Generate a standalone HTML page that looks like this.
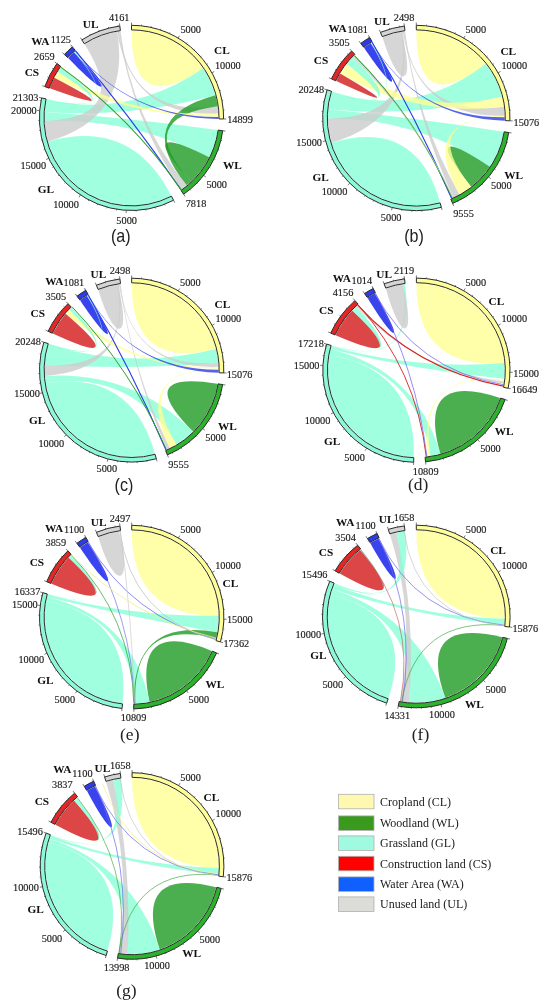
<!DOCTYPE html>
<html><head><meta charset="utf-8"><title>Land use transfer chord diagrams</title>
<style>
html,body{margin:0;padding:0;background:#fff;}
body{width:550px;height:1007px;overflow:hidden;}
svg{display:block;}
.lk{fill-opacity:0.8;}
.tl{text-anchor:middle;font-family:"Liberation Serif",serif;font-size:10.3px;fill:#1a1a1a;stroke:#1a1a1a;stroke-width:0.15px;}
.sb{text-anchor:middle;font-family:"Liberation Serif",serif;font-size:11.3px;font-weight:bold;fill:#111;}
.cs{text-anchor:middle;font-family:"Liberation Sans",sans-serif;font-size:17.5px;fill:#222;}
.cr{text-anchor:middle;font-family:"Liberation Serif",serif;font-size:17.5px;fill:#222;}
.lg{font-family:"Liberation Serif",serif;font-size:12px;fill:#1a1a1a;}
</style></head><body>
<svg width="550" height="1007" viewBox="0 0 550 1007">
<path d="M131.5,30.5 A86.93,87.4 0 0 1 203.05,68.27 Q131.5,117.9 131.5,30.5 Z" fill="#FFFF95" class="lk"/>
<path d="M203.05,68.27 A86.93,87.4 0 0 1 215.47,95.28 Q131.5,117.9 44.77,111.96 A86.93,87.4 0 0 1 46.41,100.03 Q131.5,117.9 203.05,68.27 Z" fill="#88FFD6" class="lk"/>
<path d="M217.59,130 A86.93,87.4 0 0 1 209.16,157.17 Q131.5,117.9 44.62,120.95 A86.93,87.4 0 0 1 44.77,111.96 Q131.5,117.9 217.59,130 Z" fill="#88FFD6" class="lk"/>
<path d="M171.19,195.66 A86.93,87.4 0 0 1 47.82,141.55 Q131.5,117.9 171.19,195.66 Z" fill="#88FFD6" class="lk"/>
<path d="M47.82,141.55 A86.93,87.4 0 0 1 44.62,120.95 Q131.5,117.9 84.64,44.29 A86.93,87.4 0 0 1 117.15,31.7 Q131.5,117.9 47.82,141.55 Z" fill="#CCCCCC" class="lk"/>
<path d="M217.64,106.19 A86.93,87.4 0 0 1 218.32,113.48 Q131.5,117.9 117.15,31.7 A86.93,87.4 0 0 1 118.8,31.44 Q131.5,117.9 217.64,106.19 Z" fill="#CCCCCC" class="lk"/>
<path d="M186.79,185.34 A86.93,87.4 0 0 1 181.36,189.49 Q131.5,117.9 118.8,31.44 A86.93,87.4 0 0 1 120.45,31.21 Q131.5,117.9 186.79,185.34 Z" fill="#CCCCCC" class="lk"/>
<path d="M209.16,157.17 A86.93,87.4 0 0 1 191.34,181.3 Q131.5,117.9 209.16,157.17 Z" fill="#1E9B23" class="lk"/>
<path d="M215.47,95.28 A86.93,87.4 0 0 1 217.64,106.19 Q131.5,117.9 191.34,181.3 A86.93,87.4 0 0 1 186.79,185.34 Q131.5,117.9 215.47,95.28 Z" fill="#1E9B23" class="lk"/>
<path d="M218.32,113.48 A86.93,87.4 0 0 1 218.42,116.68 Q131.5,117.9 54.25,77.81 A86.93,87.4 0 0 1 57.7,71.71 Q131.5,117.9 218.32,113.48 Z" fill="#FFFF95" class="lk"/>
<path d="M49.69,88.36 A86.93,87.4 0 0 1 54.25,77.81 Q131.5,117.9 49.69,88.36 Z" fill="#D31818" class="lk"/>
<path d="M46.41,100.03 A86.93,87.4 0 0 1 46.62,99.05 Q131.5,117.9 57.7,71.71 A86.93,87.4 0 0 1 60.29,67.77 Q131.5,117.9 46.41,100.03 Z" fill="#88FFD6" class="lk"/>
<path d="M68.17,58.03 A86.93,87.4 0 0 1 74.01,52.34 C114.38,94.05 108.34,99.94 68.17,58.03 Z" fill="#0915EA" class="lk"/>
<path d="M46.32,100.48 A86.93,87.4 0 0 1 46.41,100.03 Q131.5,117.9 74.01,52.34 A86.93,87.4 0 0 1 74.81,51.64 Q131.5,117.9 46.32,100.48 Z" fill="#88FFD6" class="lk"/>
<path d="M218.42,116.98 A86.93,87.4 0 0 1 218.42,118.9 Q131.5,117.9 75.04,51.44 A86.93,87.4 0 0 1 75.51,51.05 Q131.5,117.9 218.42,116.98 Z" fill="#2B3BEB" class="lk"/>
<path d="M180.99,189.76 Q131.5,117.9 75.62,50.95" fill="none" stroke="#2B3BEB" stroke-width="1.15"/>
<path d="M181.11,189.67 Q131.5,117.9 60.73,67.15" fill="none" stroke="#2E9E2E" stroke-width="1.1"/>
<path d="M131.5,25.3 A92.1,92.6 0 0 1 223.59,118.96 L219.02,118.91 A87.52,88 0 0 0 131.5,29.9 Z" fill="#FFFF99" stroke="#2b2b2b" stroke-width="1"/>
<path d="M131.5,25.3L131.5,22.6M141.26,25.82L141.39,24.63M150.92,27.38L151.17,26.21M160.35,29.96L160.72,28.82M169.46,33.53L169.95,32.44M178.14,38.05L179.5,35.72M186.3,43.47L187.01,42.51M193.83,49.73L194.64,48.85M200.67,56.76L201.57,55.97M206.73,64.47L207.7,63.78M211.93,72.79L214.28,71.48M216.24,81.62L217.33,81.15M219.58,90.85L220.73,90.5M221.94,100.39L223.11,100.17M223.28,110.13L224.46,110.03M223.59,118.96L226.28,119" stroke="#3c3c3c" stroke-width="0.7" fill="none"/>
<path d="M222.71,130.72 A92.1,92.6 0 0 1 183.63,194.24 L181.04,190.45 A87.52,88 0 0 0 218.18,130.08 Z" fill="#2DB22D" stroke="#2b2b2b" stroke-width="1"/>
<path d="M222.71,130.72L225.37,131.09M220.85,140.37L222.01,140.66M217.98,149.77L219.1,150.18M214.13,158.8L215.2,159.33M209.35,167.38L210.36,168.02M203.7,175.4L205.8,177.07M197.23,182.77L198.08,183.61M190.02,189.41L190.78,190.33M183.63,194.24L185.15,196.47" stroke="#3c3c3c" stroke-width="0.7" fill="none"/>
<path d="M173.56,200.28 A92.1,92.6 0 0 1 41.57,97.93 L46.04,98.92 A87.52,88 0 0 0 171.47,196.19 Z" fill="#8CF8D8" stroke="#2b2b2b" stroke-width="1"/>
<path d="M173.56,200.28L174.78,202.68M164.63,204.3L165.06,205.42M155.34,207.34L155.65,208.5M145.77,209.38L145.96,210.57M136.05,210.39L136.11,211.59M126.27,210.35L126.12,213.05M116.55,209.27L116.36,210.46M107.01,207.16L106.69,208.32M97.73,204.05L97.29,205.17M88.84,199.97L88.29,201.03M80.43,194.96L78.94,197.21M72.59,189.08L71.83,190M65.42,182.4L64.56,183.24M58.99,175L58.05,175.74M53.38,166.95L52.37,167.58M48.65,158.34L46.23,159.52M44.85,149.29L43.73,149.69M42.03,139.87L40.87,140.16M40.22,130.22L39.04,130.37M39.43,120.42L38.24,120.45M39.69,110.59L37.01,110.38M40.98,100.85L39.8,100.63M41.57,97.93L38.95,97.35" stroke="#3c3c3c" stroke-width="0.7" fill="none"/>
<path d="M44.82,86.6 A92.1,92.6 0 0 1 56.93,63.56 L60.63,66.26 A87.52,88 0 0 0 49.13,88.16 Z" fill="#E32626" stroke="#2b2b2b" stroke-width="1"/>
<path d="M44.82,86.6L42.29,85.69M48.61,77.54L47.53,77.02M53.33,68.93L52.32,68.3M56.93,63.56L54.75,61.97" stroke="#3c3c3c" stroke-width="0.7" fill="none"/>
<path d="M64.4,54.47 A92.1,92.6 0 0 1 72.4,46.88 L75.33,50.41 A87.52,88 0 0 0 67.73,57.62 Z" fill="#2D3CEB" stroke="#2b2b2b" stroke-width="1"/>
<path d="M64.4,54.47L62.44,52.62M71.47,47.68L70.69,46.77M72.4,46.88L70.68,44.81" stroke="#3c3c3c" stroke-width="0.7" fill="none"/>
<path d="M81.85,39.91 A92.1,92.6 0 0 1 119.8,26.05 L120.38,30.61 A87.52,88 0 0 0 84.32,43.78 Z" fill="#D4D4D4" stroke="#2b2b2b" stroke-width="1"/>
<path d="M81.85,39.91L80.41,37.63M90.36,35.05L89.82,33.98M99.32,31.14L98.91,30.01M108.65,28.19L108.35,27.03M118.24,26.27L118.07,25.08M119.8,26.05L119.46,23.37" stroke="#3c3c3c" stroke-width="0.7" fill="none"/>
<text x="90.7" y="27.9" class="sb">UL</text>
<text x="119.2" y="20.8" class="tl">4161</text>
<text x="190.7" y="33.4" class="tl">5000</text>
<text x="221.85" y="53.9" class="sb">CL</text>
<text x="227.85" y="68.9" class="tl">10000</text>
<text x="240" y="123.2" class="tl">14899</text>
<text x="232.35" y="168.7" class="sb">WL</text>
<text x="216.7" y="187.6" class="tl">5000</text>
<text x="196" y="206.8" class="tl">7818</text>
<text x="126.65" y="223.8" class="tl">5000</text>
<text x="66.05" y="207.5" class="tl">10000</text>
<text x="46" y="193.3" class="sb">GL</text>
<text x="33.25" y="169.3" class="tl">15000</text>
<text x="23.9" y="113.9" class="tl">20000</text>
<text x="25.6" y="100.8" class="tl">21303</text>
<text x="31.9" y="76.3" class="sb">CS</text>
<text x="44.4" y="59.5" class="tl">2659</text>
<text x="40.3" y="45.3" class="sb">WA</text>
<text x="60.9" y="42.8" class="tl">1125</text>
<text x="0" y="0" class="cs" transform="translate(120.75,242) scale(0.92,1)">(a)</text>
<path d="M416.3,30.5 A88.4,87.5 0 0 1 485.67,63.77 Q416.3,118 416.3,30.5 Z" fill="#FFFF95" class="lk"/>
<path d="M485.67,63.77 A88.4,87.5 0 0 1 502.07,96.83 Q416.3,118 328.34,109.31 A88.4,87.5 0 0 1 331.77,92.42 Q416.3,118 485.67,63.77 Z" fill="#88FFD6" class="lk"/>
<path d="M503.6,131.74 A88.4,87.5 0 0 1 489.76,166.68 Q416.3,118 327.91,118.61 A88.4,87.5 0 0 1 328.34,109.31 Q416.3,118 503.6,131.74 Z" fill="#88FFD6" class="lk"/>
<path d="M439.96,202.31 A88.4,87.5 0 0 1 331.5,142.7 Q416.3,118 439.96,202.31 Z" fill="#88FFD6" class="lk"/>
<path d="M382.45,37.17 A88.4,87.5 0 0 1 400.95,31.83 C416.73,87.67 399.47,92.66 382.45,37.17 Z" fill="#CCCCCC" class="lk"/>
<path d="M331.5,142.7 A88.4,87.5 0 0 1 327.91,118.61 Q416.3,118 400.95,31.83 A88.4,87.5 0 0 1 402.78,31.53 Q416.3,118 331.5,142.7 Z" fill="#CCCCCC" class="lk"/>
<path d="M503.96,106.73 A88.4,87.5 0 0 1 504.67,115.71 Q416.3,118 402.78,31.53 A88.4,87.5 0 0 1 404,31.35 Q416.3,118 503.96,106.73 Z" fill="#CCCCCC" class="lk"/>
<path d="M459.43,194.38 A88.4,87.5 0 0 1 453.24,197.49 Q416.3,118 404,31.35 A88.4,87.5 0 0 1 405.05,31.21 Q416.3,118 459.43,194.38 Z" fill="#CCCCCC" class="lk"/>
<path d="M489.76,166.68 A88.4,87.5 0 0 1 471.09,186.67 Q416.3,118 489.76,166.68 Z" fill="#1E9B23" class="lk"/>
<path d="M502.07,96.83 A88.4,87.5 0 0 1 503.96,106.73 Q416.3,118 340.13,73.59 A88.4,87.5 0 0 1 346.83,63.89 Q416.3,118 502.07,96.83 Z" fill="#FFFF95" class="lk"/>
<path d="M504.67,115.71 A88.4,87.5 0 0 1 504.69,116.93 Q416.3,118 471.09,186.67 A88.4,87.5 0 0 1 459.43,194.38 Q416.3,118 504.67,115.71 Z" fill="#FFFF95" class="lk"/>
<path d="M336.17,81.04 A88.4,87.5 0 0 1 340.13,73.59 Q416.3,118 336.17,81.04 Z" fill="#D31818" class="lk"/>
<path d="M331.77,92.42 A88.4,87.5 0 0 1 332.08,91.42 Q416.3,118 346.83,63.89 A88.4,87.5 0 0 1 352.39,57.55 Q416.3,118 331.77,92.42 Z" fill="#88FFD6" class="lk"/>
<path d="M363.86,47.56 A88.4,87.5 0 0 1 370.64,43.08 C403.45,91.46 396.44,96.09 363.86,47.56 Z" fill="#0915EA" class="lk"/>
<path d="M331.63,92.86 A88.4,87.5 0 0 1 331.77,92.42 Q416.3,118 370.64,43.08 A88.4,87.5 0 0 1 371.57,42.53 Q416.3,118 331.63,92.86 Z" fill="#88FFD6" class="lk"/>
<path d="M504.69,117.24 A88.4,87.5 0 0 1 504.66,120.65 Q416.3,118 371.7,42.45 A88.4,87.5 0 0 1 372.24,42.15 Q416.3,118 504.69,117.24 Z" fill="#2B3BEB" class="lk"/>
<path d="M451.55,198.24 Q416.3,118 372.1,42.22" fill="none" stroke="#2B3BEB" stroke-width="1.15"/>
<path d="M452.25,197.94 Q416.3,118 354.34,55.59" fill="none" stroke="#2E9E2E" stroke-width="1.1"/>
<path d="M453.24,197.49 A88.4,87.5 0 0 1 452.4,197.87 Q416.3,118 352.5,57.44 A88.4,87.5 0 0 1 353.58,56.34 Q416.3,118 453.24,197.49 Z" fill="#CCCCCC" class="lk"/>
<path d="M416.3,25.3 A93.65,92.7 0 0 1 509.91,120.81 L505.26,120.67 A89,88.1 0 0 0 416.3,29.9 Z" fill="#FFFF99" stroke="#2b2b2b" stroke-width="1"/>
<path d="M416.3,25.3L416.3,22.6M426.23,25.82L426.36,24.63M436.04,27.38L436.3,26.21M445.63,29.97L446.01,28.83M454.9,33.54L455.4,32.45M463.72,38.06L465.11,35.74M472.02,43.49L472.74,42.53M479.68,49.76L480.5,48.87M486.63,56.79L487.54,56M492.79,64.52L493.78,63.82M498.09,72.84L500.47,71.53M502.46,81.68L503.58,81.21M505.87,90.93L507.03,90.58M508.26,100.48L509.45,100.25M509.62,110.22L510.83,110.12M509.91,120.81L512.63,120.89" stroke="#3c3c3c" stroke-width="0.7" fill="none"/>
<path d="M508.79,132.56 A93.65,92.7 0 0 1 452.63,203.44 L450.82,199.2 A89,88.1 0 0 0 504.2,131.84 Z" fill="#2DB22D" stroke="#2b2b2b" stroke-width="1"/>
<path d="M508.79,132.56L511.48,132.98M506.71,142.18L507.88,142.49M503.61,151.53L504.74,151.96M499.53,160.5L500.6,161.05M494.51,169L495.52,169.66M488.6,176.91L490.71,178.63M481.89,184.17L482.74,185.03M474.43,190.68L475.19,191.62M466.32,196.37L466.97,197.38M457.65,201.18L458.18,202.25M452.63,203.44L453.68,205.93" stroke="#3c3c3c" stroke-width="0.7" fill="none"/>
<path d="M441.36,207.32 A93.65,92.7 0 0 1 327.07,89.84 L331.5,91.24 A89,88.1 0 0 0 440.12,202.89 Z" fill="#8CF8D8" stroke="#2b2b2b" stroke-width="1"/>
<path d="M441.36,207.32L442.09,209.92M431.66,209.44L431.86,210.63M421.78,210.54L421.85,211.74M411.84,210.59L411.78,211.79M401.95,209.6L401.76,210.79M392.22,207.58L391.52,210.19M382.76,204.55L382.33,205.67M373.68,200.54L373.13,201.61M365.08,195.61L364.42,196.61M357.06,189.8L356.29,190.73M349.7,183.18L347.77,185.07M343.1,175.82L342.15,176.57M337.32,167.81L336.3,168.46M332.43,159.25L331.35,159.78M328.49,150.21L327.35,150.63M325.53,140.82L322.89,141.48M323.6,131.17L322.4,131.34M322.71,121.37L321.5,121.41M322.88,111.53L321.67,111.44M324.1,101.76L322.9,101.55M327.07,89.84L324.48,89.02" stroke="#3c3c3c" stroke-width="0.7" fill="none"/>
<path d="M331.41,78.85 A93.65,92.7 0 0 1 351.61,50.97 L354.82,54.3 A89,88.1 0 0 0 335.62,80.79 Z" fill="#E32626" stroke="#2b2b2b" stroke-width="1"/>
<path d="M331.41,78.85L328.94,77.71M336.08,70.16L335.04,69.54M341.66,62.02L340.69,61.29M348.07,54.5L347.19,53.68M351.61,50.97L349.73,49.02" stroke="#3c3c3c" stroke-width="0.7" fill="none"/>
<path d="M360.74,43.38 A93.65,92.7 0 0 1 369.74,37.57 L372.05,41.56 A89,88.1 0 0 0 363.5,47.08 Z" fill="#2D3CEB" stroke="#2b2b2b" stroke-width="1"/>
<path d="M360.74,43.38L359.12,41.2M369.04,37.97L368.43,36.93M369.74,37.57L368.39,35.23" stroke="#3c3c3c" stroke-width="0.7" fill="none"/>
<path d="M380.44,32.36 A93.65,92.7 0 0 1 404.38,26.05 L404.97,30.62 A89,88.1 0 0 0 382.22,36.61 Z" fill="#D4D4D4" stroke="#2b2b2b" stroke-width="1"/>
<path d="M380.44,32.36L379.4,29.87M389.82,29.08L389.47,27.93M399.49,26.81L399.27,25.63M404.38,26.05L404.03,23.38" stroke="#3c3c3c" stroke-width="0.7" fill="none"/>
<text x="381.95" y="25.1" class="sb">UL</text>
<text x="404.05" y="21.1" class="tl">2498</text>
<text x="475.8" y="33.4" class="tl">5000</text>
<text x="508.3" y="55.2" class="sb">CL</text>
<text x="514.25" y="69.4" class="tl">10000</text>
<text x="526.4" y="125.6" class="tl">15076</text>
<text x="513.7" y="179.1" class="sb">WL</text>
<text x="501.3" y="189" class="tl">5000</text>
<text x="463.5" y="216.5" class="tl">9555</text>
<text x="391.15" y="220.7" class="tl">5000</text>
<text x="334.55" y="194.7" class="tl">10000</text>
<text x="320.55" y="181.2" class="sb">GL</text>
<text x="309.1" y="145.6" class="tl">15000</text>
<text x="311.3" y="92.9" class="tl">20248</text>
<text x="320.95" y="63.6" class="sb">CS</text>
<text x="339.3" y="46.4" class="tl">3505</text>
<text x="337.6" y="31.5" class="sb">WA</text>
<text x="357.7" y="32.7" class="tl">1081</text>
<text x="0" y="0" class="cs" transform="translate(414,241.7) scale(0.92,1)">(b)</text>
<path d="M131.65,283.4 A86.94,86.75 0 0 1 215.97,349.02 Q131.65,370.15 131.65,283.4 Z" fill="#FFFF95" class="lk"/>
<path d="M215.97,349.02 A86.94,86.75 0 0 1 218.27,362.74 Q131.65,370.15 44.86,365.01 A86.94,86.75 0 0 1 48.6,344.5 Q131.65,370.15 215.97,349.02 Z" fill="#88FFD6" class="lk"/>
<path d="M217.51,383.77 A86.94,86.75 0 0 1 193.02,431.6 Q131.65,370.15 217.51,383.77 Z" fill="#1E9B23" class="lk"/>
<path d="M193.02,431.6 A86.94,86.75 0 0 1 176.43,444.51 Q131.65,370.15 45.67,382.97 A86.94,86.75 0 0 1 44.9,375.9 Q131.65,370.15 193.02,431.6 Z" fill="#88FFD6" class="lk"/>
<path d="M154.92,453.74 A86.94,86.75 0 0 1 45.67,382.97 Q131.65,370.15 154.92,453.74 Z" fill="#88FFD6" class="lk"/>
<path d="M98.36,290.01 A86.94,86.75 0 0 1 117.45,284.56 C132.64,339.99 114.83,345.07 98.36,290.01 Z" fill="#CCCCCC" class="lk"/>
<path d="M44.9,375.9 A86.94,86.75 0 0 1 44.86,365.01 Q131.65,370.15 117.45,284.56 A86.94,86.75 0 0 1 118.95,284.33 Q131.65,370.15 44.9,375.9 Z" fill="#CCCCCC" class="lk"/>
<path d="M218.27,362.74 A86.94,86.75 0 0 1 218.52,366.82 Q131.65,370.15 118.95,284.33 A86.94,86.75 0 0 1 119.85,284.2 Q131.65,370.15 218.27,362.74 Z" fill="#CCCCCC" class="lk"/>
<path d="M169.76,448.12 A86.94,86.75 0 0 1 167.01,449.4 Q131.65,370.15 119.85,284.2 A86.94,86.75 0 0 1 120.58,284.11 Q131.65,370.15 169.76,448.12 Z" fill="#CCCCCC" class="lk"/>
<path d="M218.57,368.18 A86.94,86.75 0 0 1 218.59,369.39 Q131.65,370.15 176.43,444.51 A86.94,86.75 0 0 1 169.76,448.12 Q131.65,370.15 218.57,368.18 Z" fill="#FFFF95" class="lk"/>
<path d="M218.52,366.82 A86.94,86.75 0 0 1 218.57,368.18 Q131.65,370.15 65.54,313.81 A86.94,86.75 0 0 1 69.32,309.67 Q131.65,370.15 218.52,366.82 Z" fill="#FFFF95" class="lk"/>
<path d="M52.85,333.51 A86.94,86.75 0 0 1 65.54,313.81 Q131.65,370.15 52.85,333.51 Z" fill="#D31818" class="lk"/>
<path d="M48.6,344.5 A86.94,86.75 0 0 1 48.82,343.8 Q131.65,370.15 69.32,309.67 A86.94,86.75 0 0 1 71.59,307.43 Q131.65,370.15 48.6,344.5 Z" fill="#88FFD6" class="lk"/>
<path d="M80.07,300.32 A86.94,86.75 0 0 1 86.87,295.79 C119.11,343.78 112.08,348.46 80.07,300.32 Z" fill="#0915EA" class="lk"/>
<path d="M48.47,344.93 A86.94,86.75 0 0 1 48.6,344.5 Q131.65,370.15 86.87,295.79 A86.94,86.75 0 0 1 87.66,295.33 Q131.65,370.15 48.47,344.93 Z" fill="#88FFD6" class="lk"/>
<path d="M218.59,369.7 A86.94,86.75 0 0 1 218.55,372.78 Q131.65,370.15 87.79,295.25 A86.94,86.75 0 0 1 88.31,294.95 Q131.65,370.15 218.59,369.7 Z" fill="#2B3BEB" class="lk"/>
<path d="M165.9,449.88 Q131.65,370.15 88.18,295.02" fill="none" stroke="#2B3BEB" stroke-width="1.15"/>
<path d="M166.46,449.64 Q131.65,370.15 72.14,306.91" fill="none" stroke="#2E9E2E" stroke-width="1.0"/>
<path d="M131.65,278.2 A92.15,91.95 0 0 1 223.76,372.93 L219.15,372.8 A87.54,87.35 0 0 0 131.65,282.8 Z" fill="#FFFF99" stroke="#2b2b2b" stroke-width="1"/>
<path d="M131.65,278.2L131.65,275.5M141.42,278.72L141.55,277.52M151.08,280.27L151.33,279.09M160.52,282.83L160.89,281.69M169.63,286.37L170.12,285.28M178.31,290.86L179.69,288.53M186.47,296.24L187.19,295.28M194.02,302.46L194.83,301.58M200.86,309.44L201.76,308.65M206.92,317.1L207.9,316.41M212.13,325.36L214.49,324.04M216.43,334.12L217.54,333.65M219.78,343.29L220.93,342.94M222.14,352.77L223.32,352.54M223.48,362.44L224.67,362.34M223.76,372.93L226.46,373.02" stroke="#3c3c3c" stroke-width="0.7" fill="none"/>
<path d="M222.66,384.59 A92.15,91.95 0 0 1 167.39,454.9 L165.61,450.66 A87.54,87.35 0 0 0 218.1,383.87 Z" fill="#2DB22D" stroke="#2b2b2b" stroke-width="1"/>
<path d="M222.66,384.59L225.33,385.01M220.61,394.13L221.77,394.45M217.56,403.41L218.68,403.84M213.54,412.31L214.61,412.86M208.6,420.73L209.61,421.39M202.8,428.59L204.89,430.3M196.19,435.78L197.03,436.64M188.85,442.24L189.6,443.18M180.87,447.88L181.51,448.9M172.34,452.65L172.87,453.73M167.39,454.9L168.44,457.39" stroke="#3c3c3c" stroke-width="0.7" fill="none"/>
<path d="M156.31,458.75 A92.15,91.95 0 0 1 43.85,342.22 L48.25,343.62 A87.54,87.35 0 0 0 155.08,454.31 Z" fill="#8CF8D8" stroke="#2b2b2b" stroke-width="1"/>
<path d="M156.31,458.75L157.04,461.35M146.76,460.86L146.96,462.04M137.04,461.94L137.11,463.14M127.26,462L127.2,463.19M117.53,461.01L117.34,462.2M107.95,459.01L107.26,461.62M98.65,456L98.22,457.12M89.71,452.03L89.17,453.1M81.25,447.13L80.59,448.13M73.36,441.37L72.6,442.29M66.12,434.8L64.2,436.7M59.62,427.5L58.68,428.25M53.94,419.56L52.92,420.21M49.12,411.06L48.05,411.6M45.24,402.1L44.12,402.52M42.34,392.78L39.71,393.45M40.43,383.21L39.24,383.38M39.56,373.49L38.36,373.53M39.72,363.73L38.53,363.65M40.92,354.04L39.74,353.83M43.85,342.22L41.28,341.4" stroke="#3c3c3c" stroke-width="0.7" fill="none"/>
<path d="M48.12,331.32 A92.15,91.95 0 0 1 68,303.66 L71.18,306.99 A87.54,87.35 0 0 0 52.3,333.26 Z" fill="#E32626" stroke="#2b2b2b" stroke-width="1"/>
<path d="M48.12,331.32L45.67,330.18M52.72,322.7L51.69,322.08M58.2,314.62L57.24,313.89M64.52,307.16L63.64,306.34M68,303.66L66.13,301.71" stroke="#3c3c3c" stroke-width="0.7" fill="none"/>
<path d="M76.98,296.13 A92.15,91.95 0 0 1 85.84,290.37 L88.13,294.36 A87.54,87.35 0 0 0 79.71,299.83 Z" fill="#2D3CEB" stroke="#2b2b2b" stroke-width="1"/>
<path d="M76.98,296.13L75.37,293.96M85.15,290.76L84.54,289.73M85.84,290.37L84.49,288.03" stroke="#3c3c3c" stroke-width="0.7" fill="none"/>
<path d="M96.37,285.21 A92.15,91.95 0 0 1 119.92,278.95 L120.51,283.51 A87.54,87.35 0 0 0 98.13,289.46 Z" fill="#D4D4D4" stroke="#2b2b2b" stroke-width="1"/>
<path d="M96.37,285.21L95.33,282.71M105.59,281.95L105.25,280.8M115.11,279.69L114.89,278.51M119.92,278.95L119.58,276.27" stroke="#3c3c3c" stroke-width="0.7" fill="none"/>
<text x="98.4" y="277.9" class="sb">UL</text>
<text x="120" y="274.4" class="tl">2498</text>
<text x="190.3" y="286.3" class="tl">5000</text>
<text x="222.45" y="307.6" class="sb">CL</text>
<text x="228.4" y="322.4" class="tl">10000</text>
<text x="239.6" y="377.5" class="tl">15076</text>
<text x="227.45" y="430.3" class="sb">WL</text>
<text x="215.6" y="440.9" class="tl">5000</text>
<text x="178.5" y="468.1" class="tl">9555</text>
<text x="106.8" y="472.4" class="tl">5000</text>
<text x="51.3" y="447.2" class="tl">10000</text>
<text x="37.2" y="424.3" class="sb">GL</text>
<text x="27.05" y="397.1" class="tl">15000</text>
<text x="28.05" y="345.3" class="tl">20248</text>
<text x="37.85" y="316.9" class="sb">CS</text>
<text x="55.85" y="299.9" class="tl">3505</text>
<text x="54.3" y="285" class="sb">WA</text>
<text x="73.9" y="285.7" class="tl">1081</text>
<text x="0" y="0" class="cs" transform="translate(124,491) scale(0.92,1)">(c)</text>
<path d="M416.4,283.3 A88.32,86.9 0 0 1 504.41,362.93 Q416.4,370.2 416.4,283.3 Z" fill="#FFFF95" class="lk"/>
<path d="M504.41,362.93 A88.32,86.9 0 0 1 504.28,378.83 Q416.4,370.2 330.71,349.18 A88.32,86.9 0 0 1 331.42,346.54 Q416.4,370.2 504.41,362.93 Z" fill="#88FFD6" class="lk"/>
<path d="M500.1,397.93 A88.32,86.9 0 0 1 440.3,453.86 Q416.4,370.2 500.1,397.93 Z" fill="#1E9B23" class="lk"/>
<path d="M440.3,453.86 A88.32,86.9 0 0 1 430.52,455.98 Q416.4,370.2 329.51,354.66 A88.32,86.9 0 0 1 330.71,349.18 Q416.4,370.2 440.3,453.86 Z" fill="#88FFD6" class="lk"/>
<path d="M413.81,457.06 A88.32,86.9 0 0 1 329.51,354.66 Q416.4,370.2 413.81,457.06 Z" fill="#88FFD6" class="lk"/>
<path d="M335.56,335.2 A88.32,86.9 0 0 1 352.23,310.49 Q416.4,370.2 335.56,335.2 Z" fill="#D31818" class="lk"/>
<path d="M331.42,346.54 A88.32,86.9 0 0 1 331.55,346.1 Q416.4,370.2 352.23,310.49 A88.32,86.9 0 0 1 356.17,306.65 Q416.4,370.2 331.42,346.54 Z" fill="#88FFD6" class="lk"/>
<path d="M331.55,346.1 A88.32,86.9 0 0 1 331.7,345.6 Q416.4,370.2 402.58,284.37 A88.32,86.9 0 0 1 405.18,284 Q416.4,370.2 331.55,346.1 Z" fill="#88FFD6" class="lk"/>
<path d="M367.45,297.87 A88.32,86.9 0 0 1 374.67,293.61 C405.02,343.18 397.55,347.58 367.45,297.87 Z" fill="#0915EA" class="lk"/>
<path d="M385.91,288.64 A88.32,86.9 0 0 1 402.58,284.37 C416.8,340.31 401.24,344.3 385.91,288.64 Z" fill="#CCCCCC" class="lk"/>
<path d="M504.2,379.59 A88.32,86.9 0 0 1 504.02,381.09 Q416.4,370.2 430.52,455.98 A88.32,86.9 0 0 1 427.77,456.38 Q416.4,370.2 504.2,379.59 Z" fill="#FFFF95" class="lk"/>
<path d="M503.96,381.54 A88.32,86.9 0 0 1 503.68,383.49 Q416.4,370.2 356.17,306.65 A88.32,86.9 0 0 1 357.19,305.72 Q416.4,370.2 503.96,381.54 Z" fill="#CCCCCC" class="lk"/>
<path d="M503.24,386.04 Q416.4,370.2 357.77,305.22" fill="none" stroke="#D42020" stroke-width="1.2"/>
<path d="M426.24,456.56 Q416.4,370.2 358.11,304.92" fill="none" stroke="#D42020" stroke-width="0.9"/>
<path d="M503.48,384.69 Q416.4,370.2 375.07,293.4" fill="none" stroke="#6a5ae8" stroke-width="0.7"/>
<path d="M426.86,456.49 Q416.4,370.2 375.35,293.26" fill="none" stroke="#6a5ae8" stroke-width="0.7"/>
<path d="M416.4,278.1 A93.6,92.1 0 0 1 508.18,388.26 L503.6,387.36 A88.93,87.5 0 0 0 416.4,282.7 Z" fill="#FFFF99" stroke="#2b2b2b" stroke-width="1"/>
<path d="M416.4,278.1L416.4,275.4M426.32,278.62L426.45,277.43M436.13,280.17L436.39,279M445.72,282.74L446.1,281.6M454.98,286.29L455.48,285.19M463.8,290.78L465.19,288.45M472.09,296.17L472.81,295.21M479.75,302.4L480.57,301.52M486.7,309.39L487.61,308.6M492.85,317.06L493.85,316.37M498.14,325.34L500.54,324.02M502.52,334.12L503.64,333.65M505.92,343.3L507.09,342.95M508.31,352.79L509.51,352.56M509.67,362.47L510.89,362.37M509.98,372.25L512.72,372.31M509.23,381.99L510.44,382.15M508.18,388.26L510.87,388.79" stroke="#3c3c3c" stroke-width="0.7" fill="none"/>
<path d="M505.11,399.59 A93.6,92.1 0 0 1 425.57,461.86 L425.11,457.28 A88.93,87.5 0 0 0 500.68,398.12 Z" fill="#2DB22D" stroke="#2b2b2b" stroke-width="1"/>
<path d="M505.11,399.59L507.71,400.45M501.44,408.67L502.55,409.17M496.82,417.33L497.87,417.94M491.29,425.45L492.26,426.17M484.91,432.95L485.81,433.77M477.77,439.74L479.57,441.78M469.93,445.75L470.63,446.74M461.49,450.91L462.08,451.96M452.54,455.16L453.01,456.26M443.19,458.45L443.54,459.6M425.57,461.86L425.84,464.54" stroke="#3c3c3c" stroke-width="0.7" fill="none"/>
<path d="M413.66,462.26 A93.6,92.1 0 0 1 326.63,344.12 L331.11,345.43 A88.93,87.5 0 0 0 413.8,457.66 Z" fill="#8CF8D8" stroke="#2b2b2b" stroke-width="1"/>
<path d="M413.66,462.26L413.58,464.96M403.76,461.46L403.59,462.64M394,459.62L393.71,460.79M384.49,456.78L384.07,457.91M375.34,452.97L374.81,454.04M366.66,448.22L365.2,450.5M358.53,442.59L357.78,443.53M351.06,436.15L350.21,437.01M344.32,428.96L343.39,429.73M338.4,421.11L337.38,421.77M333.36,412.69L330.92,413.93M329.25,403.79L328.11,404.23M326.12,394.51L324.94,394.82M324.01,384.95L322.81,385.15M322.94,375.23L321.72,375.3M322.92,365.46L320.18,365.32M323.96,355.74L322.76,355.55M326.04,346.18L324.86,345.86M326.63,344.12L324,343.36" stroke="#3c3c3c" stroke-width="0.7" fill="none"/>
<path d="M330.73,333.11 A93.6,92.1 0 0 1 355.04,300.65 L358.1,304.13 A88.93,87.5 0 0 0 335,334.96 Z" fill="#E32626" stroke="#2b2b2b" stroke-width="1"/>
<path d="M330.73,333.11L328.21,332.02M335.2,324.38L334.15,323.79M340.6,316.17L339.61,315.47M346.84,308.57L345.94,307.77M353.87,301.66L353.06,300.77M355.04,300.65L353.24,298.61" stroke="#3c3c3c" stroke-width="0.7" fill="none"/>
<path d="M364.52,293.54 A93.6,92.1 0 0 1 373.19,288.5 L375.35,292.58 A88.93,87.5 0 0 0 367.11,297.37 Z" fill="#2D3CEB" stroke="#2b2b2b" stroke-width="1"/>
<path d="M364.52,293.54L362.99,291.3M373.07,288.57L372.5,287.5M373.19,288.5L371.92,286.11" stroke="#3c3c3c" stroke-width="0.7" fill="none"/>
<path d="M384.09,283.76 A93.6,92.1 0 0 1 404.51,278.85 L405.1,283.41 A88.93,87.5 0 0 0 385.7,288.08 Z" fill="#D4D4D4" stroke="#2b2b2b" stroke-width="1"/>
<path d="M384.09,283.76L383.14,281.23M393.58,280.88L393.29,279.71M403.33,279L403.16,277.81M404.51,278.85L404.16,276.17" stroke="#3c3c3c" stroke-width="0.7" fill="none"/>
<text x="384.1" y="277.5" class="sb">UL</text>
<text x="404.05" y="273.9" class="tl">2119</text>
<text x="475.8" y="286.3" class="tl">5000</text>
<text x="496.45" y="304.7" class="sb">CL</text>
<text x="514.25" y="322.4" class="tl">10000</text>
<text x="526.15" y="376.6" class="tl">15000</text>
<text x="524.6" y="392.7" class="tl">16649</text>
<text x="504.05" y="434.8" class="sb">WL</text>
<text x="490.45" y="452" class="tl">5000</text>
<text x="425.7" y="474.5" class="tl">10809</text>
<text x="354.55" y="460.5" class="tl">5000</text>
<text x="317.55" y="423.5" class="tl">10000</text>
<text x="332.25" y="444.6" class="sb">GL</text>
<text x="306.65" y="369" class="tl">15000</text>
<text x="310.95" y="346.7" class="tl">17218</text>
<text x="326.25" y="313.6" class="sb">CS</text>
<text x="343" y="296.4" class="tl">4156</text>
<text x="341.8" y="281.7" class="sb">WA</text>
<text x="361.8" y="283.8" class="tl">1014</text>
<text x="418.2" y="489.6" class="cr">(d)</text>
<path d="M131.7,530.5 A86.98,86.65 0 0 1 218.67,615.79 Q131.7,617.15 131.7,530.5 Z" fill="#FFFF95" class="lk"/>
<path d="M218.67,615.79 A86.98,86.65 0 0 1 217.33,632.35 Q131.7,617.15 47.12,596.92 A86.98,86.65 0 0 1 47.72,594.58 Q131.7,617.15 218.67,615.79 Z" fill="#88FFD6" class="lk"/>
<path d="M211.8,650.93 A86.98,86.65 0 0 1 149.49,701.97 Q131.7,617.15 211.8,650.93 Z" fill="#1E9B23" class="lk"/>
<path d="M149.49,701.97 A86.98,86.65 0 0 1 135.04,703.74 Q131.7,617.15 46.23,601.06 A86.98,86.65 0 0 1 47.12,596.92 Q131.7,617.15 149.49,701.97 Z" fill="#88FFD6" class="lk"/>
<path d="M217.33,632.35 A86.98,86.65 0 0 1 215.99,638.55 Q131.7,617.15 135.34,703.72 A86.98,86.65 0 0 1 133.98,703.77 Q131.7,617.15 217.33,632.35 Z" fill="#1E9B23" class="lk"/>
<path d="M122.58,703.32 A86.98,86.65 0 0 1 46.23,601.06 Q131.7,617.15 122.58,703.32 Z" fill="#88FFD6" class="lk"/>
<path d="M51.47,583.68 A86.98,86.65 0 0 1 68.61,557.5 Q131.7,617.15 51.47,583.68 Z" fill="#D31818" class="lk"/>
<path d="M47.72,594.58 A86.98,86.65 0 0 1 47.85,594.1 Q131.7,617.15 68.61,557.5 A86.98,86.65 0 0 1 70.73,555.35 Q131.7,617.15 47.72,594.58 Z" fill="#88FFD6" class="lk"/>
<path d="M133.83,703.77 Q131.7,617.15 71.17,554.92" fill="none" stroke="#2E9E2E" stroke-width="0.7"/>
<path d="M79.97,547.49 A86.98,86.65 0 0 1 87.69,542.41 C119.73,590.46 111.76,595.71 79.97,547.49 Z" fill="#0915EA" class="lk"/>
<path d="M215.79,639.28 Q131.7,617.15 88.08,542.18" fill="none" stroke="#5a5ae8" stroke-width="0.7"/>
<path d="M134.43,703.76 Q131.7,617.15 88.34,542.03" fill="none" stroke="#5a5ae8" stroke-width="0.6"/>
<path d="M98.41,537.1 A86.98,86.65 0 0 1 118.99,531.43 C133.64,586.88 114.43,592.17 98.41,537.1 Z" fill="#CCCCCC" class="lk"/>
<path d="M215.64,639.87 Q131.7,617.15 119.9,531.3" fill="none" stroke="#C4C4C4" stroke-width="0.8"/>
<path d="M134.74,703.75 Q131.7,617.15 120.35,531.24" fill="none" stroke="#C4C4C4" stroke-width="0.6"/>
<path d="M216.1,638.11 Q131.7,617.15 71.28,554.82" fill="none" stroke="#f3ee90" stroke-width="0.8"/>
<path d="M131.7,525.3 A92.2,91.85 0 0 1 220.48,641.92 L216.04,640.68 A87.58,87.25 0 0 0 131.7,529.9 Z" fill="#FFFF99" stroke="#2b2b2b" stroke-width="1"/>
<path d="M131.7,525.3L131.7,522.6M141.47,525.82L141.6,524.62M151.14,527.36L151.39,526.19M160.58,529.92L160.96,528.78M169.7,533.46L170.2,532.37M178.39,537.95L179.76,535.62M186.55,543.32L187.27,542.36M194.1,549.53L194.92,548.65M200.94,556.5L201.85,555.71M207.01,564.16L207.99,563.46M212.22,572.41L214.59,571.09M216.53,581.16L217.64,580.69M219.88,590.32L221.03,589.97M222.24,599.79L223.42,599.56M223.58,609.45L224.78,609.34M223.88,619.19L226.59,619.25M223.14,628.91L224.34,629.07M221.37,638.5L222.55,638.78M220.48,641.92L223.09,642.65" stroke="#3c3c3c" stroke-width="0.7" fill="none"/>
<path d="M216.6,652.96 A92.2,91.85 0 0 1 133.76,708.98 L133.66,704.38 A87.58,87.25 0 0 0 212.35,651.16 Z" fill="#2DB22D" stroke="#2b2b2b" stroke-width="1"/>
<path d="M216.6,652.96L219.1,654.01M212.32,661.72L213.37,662.3M207.12,669.98L208.1,670.67M201.07,677.65L201.98,678.44M194.24,684.64L195.06,685.52M186.71,690.86L188.33,693.03M178.56,696.25L179.17,697.29M169.88,700.76L170.38,701.85M160.77,704.32L161.15,705.46M151.33,706.89L151.58,708.07M133.76,708.98L133.83,711.68" stroke="#3c3c3c" stroke-width="0.7" fill="none"/>
<path d="M122.04,708.49 A92.2,91.85 0 0 1 42.82,592.72 L47.27,593.94 A87.58,87.25 0 0 0 122.52,703.92 Z" fill="#8CF8D8" stroke="#2b2b2b" stroke-width="1"/>
<path d="M122.04,708.49L121.75,711.18M112.37,706.96L112.12,708.13M102.92,704.41L102.55,705.55M93.8,700.88L93.31,701.98M85.1,696.41L84.5,697.44M76.93,691.04L75.32,693.21M69.38,684.84L68.57,685.73M62.53,677.88L61.62,678.67M56.46,670.23L55.47,670.93M51.23,661.99L50.18,662.57M46.91,653.24L44.42,654.3M43.55,644.08L42.4,644.43M41.18,634.62L40,634.85M39.83,624.96L38.63,625.07M39.52,615.22L38.32,615.19M40.25,605.5L37.56,605.15M42,595.9L40.83,595.63M42.82,592.72L40.21,592" stroke="#3c3c3c" stroke-width="0.7" fill="none"/>
<path d="M46.66,581.67 A92.2,91.85 0 0 1 67.89,550.85 L71.09,554.17 A87.58,87.25 0 0 0 50.92,583.44 Z" fill="#E32626" stroke="#2b2b2b" stroke-width="1"/>
<path d="M46.66,581.67L44.16,580.62M50.91,572.89L49.86,572.31M56.08,564.61L55.09,563.92M62.09,556.92L61.19,556.13M67.89,550.85L66.02,548.9" stroke="#3c3c3c" stroke-width="0.7" fill="none"/>
<path d="M76.87,543.31 A92.2,91.85 0 0 1 85.88,537.45 L88.17,541.44 A87.58,87.25 0 0 0 79.61,547.01 Z" fill="#2D3CEB" stroke="#2b2b2b" stroke-width="1"/>
<path d="M76.87,543.31L75.25,541.14M85.03,537.93L84.42,536.9M85.88,537.45L84.53,535.1" stroke="#3c3c3c" stroke-width="0.7" fill="none"/>
<path d="M96.42,532.29 A92.2,91.85 0 0 1 119.97,526.05 L120.56,530.61 A87.58,87.25 0 0 0 98.18,536.54 Z" fill="#D4D4D4" stroke="#2b2b2b" stroke-width="1"/>
<path d="M96.42,532.29L95.38,529.8M105.64,529.04L105.3,527.89M115.17,526.79L114.95,525.61M119.97,526.05L119.63,523.37" stroke="#3c3c3c" stroke-width="0.7" fill="none"/>
<text x="98.65" y="525.6" class="sb">UL</text>
<text x="120" y="521.5" class="tl">2497</text>
<text x="190.55" y="532.9" class="tl">5000</text>
<text x="228.05" y="568.6" class="tl">10000</text>
<text x="230.35" y="586.8" class="sb">CL</text>
<text x="239.85" y="623" class="tl">15000</text>
<text x="236.35" y="646.7" class="tl">17362</text>
<text x="214.8" y="688.1" class="sb">WL</text>
<text x="198.85" y="702.7" class="tl">5000</text>
<text x="133.55" y="720.6" class="tl">10809</text>
<text x="64.8" y="702.5" class="tl">5000</text>
<text x="31.3" y="663.3" class="tl">10000</text>
<text x="45.45" y="683.6" class="sb">GL</text>
<text x="24.85" y="608.3" class="tl">15000</text>
<text x="27.45" y="594.8" class="tl">16337</text>
<text x="36.9" y="565.8" class="sb">CS</text>
<text x="55.85" y="546.4" class="tl">3859</text>
<text x="54.05" y="531.5" class="sb">WA</text>
<text x="74.15" y="532.7" class="tl">1100</text>
<text x="129.75" y="740.1" class="cr">(e)</text>
<path d="M416.3,530.4 A88.46,86.1 0 0 1 504.73,618.75 Q416.3,616.5 416.3,530.4 Z" fill="#FFFF95" class="lk"/>
<path d="M504.73,618.75 A88.46,86.1 0 0 1 504.37,624.6 Q416.3,616.5 332.41,589.18 A88.46,86.1 0 0 1 334,584.94 Q416.3,616.5 504.73,618.75 Z" fill="#88FFD6" class="lk"/>
<path d="M502.17,637.19 A88.46,86.1 0 0 1 445.24,697.86 Q416.3,616.5 502.17,637.19 Z" fill="#1E9B23" class="lk"/>
<path d="M445.24,697.86 A88.46,86.1 0 0 1 409.05,702.31 Q416.3,616.5 330.78,594.51 A88.46,86.1 0 0 1 332.41,589.18 Q416.3,616.5 445.24,697.86 Z" fill="#88FFD6" class="lk"/>
<path d="M409.05,702.31 A88.46,86.1 0 0 1 400.33,701.19 Q416.3,616.5 389.86,534.33 A88.46,86.1 0 0 1 396.4,532.61 Q416.3,616.5 409.05,702.31 Z" fill="#CCCCCC" class="lk"/>
<path d="M334,584.94 A88.46,86.1 0 0 1 334.4,583.97 Q416.3,616.5 396.4,532.61 A88.46,86.1 0 0 1 405.06,531.1 Q416.3,616.5 334,584.94 Z" fill="#88FFD6" class="lk"/>
<path d="M388.37,698.2 A88.46,86.1 0 0 1 330.78,594.51 Q416.3,616.5 388.37,698.2 Z" fill="#88FFD6" class="lk"/>
<path d="M339.69,573.45 A88.46,86.1 0 0 1 360.15,549.97 Q416.3,616.5 339.69,573.45 Z" fill="#D31818" class="lk"/>
<path d="M334.4,583.97 A88.46,86.1 0 0 1 334.69,583.28 Q416.3,616.5 360.15,549.97 A88.46,86.1 0 0 1 361.01,549.29 Q416.3,616.5 334.4,583.97 Z" fill="#88FFD6" class="lk"/>
<path d="M370.24,543 A88.46,86.1 0 0 1 378.36,538.72 C406.49,589.08 398.1,593.49 370.24,543 Z" fill="#0915EA" class="lk"/>
<path d="M504.27,625.5 Q416.3,616.5 401.7,701.42" fill="none" stroke="#2E9E2E" stroke-width="0.6"/>
<path d="M504.3,625.2 Q416.3,616.5 378.78,538.53" fill="none" stroke="#6a6ae8" stroke-width="0.7"/>
<path d="M402.46,701.54 Q416.3,616.5 379.06,538.4" fill="none" stroke="#6a6ae8" stroke-width="0.7"/>
<path d="M400.48,701.21 Q416.3,616.5 360.63,549.59" fill="none" stroke="#c05050" stroke-width="0.6"/>
<path d="M504.22,625.95 Q416.3,616.5 403.99,531.24" fill="none" stroke="#C4C4C4" stroke-width="0.7"/>
<path d="M416.3,525.2 A93.8,91.3 0 0 1 509.48,627 L504.78,626.47 A89.07,86.7 0 0 0 416.3,529.8 Z" fill="#FFFF99" stroke="#2b2b2b" stroke-width="1"/>
<path d="M416.3,525.2L416.3,522.5M426.24,525.71L426.37,524.52M436.07,527.25L436.33,526.08M445.68,529.79L446.07,528.66M454.96,533.31L455.47,532.22M463.8,537.77L465.21,535.44M472.11,543.12L472.84,542.15M479.78,549.29L480.62,548.4M486.75,556.22L487.67,555.42M492.91,563.82L493.92,563.13M498.22,572.03L500.64,570.71M502.6,580.73L503.74,580.26M506.01,589.83L507.19,589.48M508.41,599.24L509.62,599.01M509.77,608.84L511,608.74M509.48,627L512.23,627.31" stroke="#3c3c3c" stroke-width="0.7" fill="none"/>
<path d="M507.35,638.44 A93.8,91.3 0 0 1 398.23,706.09 L399.14,701.58 A89.07,86.7 0 0 0 502.76,637.33 Z" fill="#2DB22D" stroke="#2b2b2b" stroke-width="1"/>
<path d="M507.35,638.44L510.04,639.09M504.45,647.71L505.61,648.12M500.55,656.63L501.66,657.16M495.71,665.09L496.75,665.73M489.97,673.01L490.94,673.76M483.4,680.3L485.38,682.18M476.07,686.86L476.86,687.79M468.08,692.63L468.76,693.63M459.49,697.54L460.06,698.61M450.42,701.54L450.87,702.66M440.97,704.59L441.7,707.19M431.24,706.63L431.43,707.82M421.34,707.67L421.4,708.87M411.38,707.67L411.32,708.87M401.48,706.65L401.28,707.84M398.23,706.09L397.7,708.74" stroke="#3c3c3c" stroke-width="0.7" fill="none"/>
<path d="M386.68,703.13 A93.8,91.3 0 0 1 329.76,581.27 L334.12,583.05 A89.07,86.7 0 0 0 388.18,698.76 Z" fill="#8CF8D8" stroke="#2b2b2b" stroke-width="1"/>
<path d="M386.68,703.13L385.81,705.69M377.42,699.59L376.91,700.68M368.59,695.11L367.96,696.14M360.3,689.74L359.56,690.7M352.63,683.55L351.8,684.43M345.69,676.6L343.6,678.38M339.54,668.98L338.53,669.67M334.26,660.76L333.18,661.35M329.9,652.05L328.77,652.52M326.52,642.94L325.34,643.28M324.14,633.52L321.42,634.03M322.81,623.92L321.58,624.02M322.53,614.23L321.3,614.2M323.3,604.57L322.08,604.41M325.13,595.04L323.93,594.76M329.76,581.27L327.2,580.23" stroke="#3c3c3c" stroke-width="0.7" fill="none"/>
<path d="M335.06,570.85 A93.8,91.3 0 0 1 357.68,545.23 L360.63,548.82 A89.07,86.7 0 0 0 339.16,573.15 Z" fill="#E32626" stroke="#2b2b2b" stroke-width="1"/>
<path d="M335.06,570.85L332.66,569.5M340.49,562.73L339.5,562.02M346.78,555.21L345.86,554.41M353.84,548.38L353.02,547.49M357.68,545.23L355.94,543.12" stroke="#3c3c3c" stroke-width="0.7" fill="none"/>
<path d="M367.45,538.56 A93.8,91.3 0 0 1 377.12,533.55 L379.09,537.73 A89.07,86.7 0 0 0 369.92,542.48 Z" fill="#2D3CEB" stroke="#2b2b2b" stroke-width="1"/>
<path d="M367.45,538.56L366.01,536.25M376.22,533.96L375.69,532.87M377.12,533.55L375.96,531.09" stroke="#3c3c3c" stroke-width="0.7" fill="none"/>
<path d="M388.27,529.37 A93.8,91.3 0 0 1 404.38,525.94 L404.98,530.5 A89.07,86.7 0 0 0 389.68,533.76 Z" fill="#D4D4D4" stroke="#2b2b2b" stroke-width="1"/>
<path d="M388.27,529.37L387.44,526.8M397.91,526.97L397.67,525.79M404.38,525.94L404.03,523.26" stroke="#3c3c3c" stroke-width="0.7" fill="none"/>
<text x="386.7" y="523.4" class="sb">UL</text>
<text x="404.05" y="520.8" class="tl">1658</text>
<text x="476.15" y="532.9" class="tl">5000</text>
<text x="498" y="554.4" class="sb">CL</text>
<text x="514.25" y="568.6" class="tl">10000</text>
<text x="525.3" y="631.7" class="tl">15876</text>
<text x="495.75" y="692.5" class="tl">5000</text>
<text x="474.35" y="707.8" class="sb">WL</text>
<text x="441.95" y="717.6" class="tl">10000</text>
<text x="397.3" y="718.7" class="tl">14331</text>
<text x="332.75" y="688.1" class="tl">5000</text>
<text x="318.35" y="659.3" class="sb">GL</text>
<text x="308.25" y="637.9" class="tl">10000</text>
<text x="314.6" y="577.8" class="tl">15496</text>
<text x="326.05" y="555.8" class="sb">CS</text>
<text x="345.55" y="540.5" class="tl">3504</text>
<text x="345.2" y="525.8" class="sb">WA</text>
<text x="365.65" y="528.6" class="tl">1100</text>
<text x="420.5" y="739.6" class="cr">(f)</text>
<path d="M132.05,777.9 A86.73,88.1 0 0 1 218.76,868 Q132.05,866 132.05,777.9 Z" fill="#FFFF95" class="lk"/>
<path d="M218.76,868 A86.73,88.1 0 0 1 218.37,874.6 Q132.05,866 49.56,838.78 A86.73,88.1 0 0 1 50.55,835.87 Q132.05,866 218.76,868 Z" fill="#88FFD6" class="lk"/>
<path d="M216.24,887.17 A86.73,88.1 0 0 1 159.71,949.5 Q132.05,866 216.24,887.17 Z" fill="#1E9B23" class="lk"/>
<path d="M159.71,949.5 A86.73,88.1 0 0 1 127.66,953.99 Q132.05,866 48.68,841.72 A86.73,88.1 0 0 1 49.56,838.78 Q132.05,866 159.71,949.5 Z" fill="#88FFD6" class="lk"/>
<path d="M127.66,953.99 A86.73,88.1 0 0 1 119.08,953.11 Q132.05,866 106.13,781.93 A86.73,88.1 0 0 1 113.28,779.99 Q132.05,866 127.66,953.99 Z" fill="#CCCCCC" class="lk"/>
<path d="M50.55,835.87 A86.73,88.1 0 0 1 50.76,835.29 Q132.05,866 113.28,779.99 A86.73,88.1 0 0 1 121.03,778.61 Q132.05,866 50.55,835.87 Z" fill="#88FFD6" class="lk"/>
<path d="M107.59,950.52 A86.73,88.1 0 0 1 48.68,841.72 Q132.05,866 107.59,950.52 Z" fill="#88FFD6" class="lk"/>
<path d="M55.45,824.68 A86.73,88.1 0 0 1 74.02,800.53 Q132.05,866 55.45,824.68 Z" fill="#D31818" class="lk"/>
<path d="M50.76,835.29 A86.73,88.1 0 0 1 50.9,834.9 Q132.05,866 74.02,800.53 A86.73,88.1 0 0 1 76.88,798.02 Q132.05,866 50.76,835.29 Z" fill="#88FFD6" class="lk"/>
<path d="M119.23,953.13 Q132.05,866 77.35,797.63" fill="none" stroke="#2E9E2E" stroke-width="0.6"/>
<path d="M86.89,790.79 A86.73,88.1 0 0 1 94.85,786.42 C122.44,837.94 114.21,842.46 86.89,790.79 Z" fill="#0915EA" class="lk"/>
<path d="M218.31,875.21 Q132.05,866 118.78,953.06" fill="none" stroke="#2E9E2E" stroke-width="0.6"/>
<path d="M218.34,874.9 Q132.05,866 95.26,786.22" fill="none" stroke="#6a6ae8" stroke-width="0.7"/>
<path d="M120.73,953.35 Q132.05,866 95.53,786.09" fill="none" stroke="#6a6ae8" stroke-width="0.7"/>
<path d="M218.26,875.67 Q132.05,866 119.98,778.76" fill="none" stroke="#C4C4C4" stroke-width="0.7"/>
<path d="M218.45,873.68 Q132.05,866 102.39,783.21" fill="none" stroke="#f3ee90" stroke-width="0.7"/>
<path d="M132.05,772.7 A91.85,93.3 0 0 1 223.29,876.73 L218.79,876.2 A87.32,88.7 0 0 0 132.05,777.3 Z" fill="#FFFF99" stroke="#2b2b2b" stroke-width="1"/>
<path d="M132.05,772.7L132.05,770M141.79,773.23L141.91,772.03M151.41,774.8L151.66,773.62M160.82,777.4L161.19,776.26M169.91,780.99L170.39,779.9M178.56,785.55L179.91,783.22M186.7,791.01L187.4,790.04M194.21,797.32L195.01,796.43M201.03,804.4L201.92,803.6M207.07,812.17L208.04,811.48M212.27,820.55L214.59,819.24M216.56,829.45L217.64,828.97M219.9,838.75L221.03,838.4M222.24,848.36L223.4,848.14M223.58,858.17L224.75,858.07M223.29,876.73L225.93,877.04" stroke="#3c3c3c" stroke-width="0.7" fill="none"/>
<path d="M221.21,888.42 A91.85,93.3 0 0 1 117.56,958.13 L118.27,953.59 A87.32,88.7 0 0 0 216.81,887.31 Z" fill="#2DB22D" stroke="#2b2b2b" stroke-width="1"/>
<path d="M221.21,888.42L223.79,889.07M218.37,897.89L219.48,898.3M214.55,907.01L215.61,907.53M209.81,915.66L210.81,916.3M204.19,923.75L205.12,924.5M197.76,931.19L199.66,933.08M190.58,937.9L191.33,938.83M182.75,943.8L183.4,944.8M174.34,948.82L174.89,949.89M165.46,952.91L165.89,954.03M156.21,956.02L156.91,958.62M146.68,958.11L146.86,959.29M136.98,959.17L137.05,960.36M127.23,959.17L127.17,960.37M117.56,958.13L117.14,960.8" stroke="#3c3c3c" stroke-width="0.7" fill="none"/>
<path d="M106.15,955.51 A91.85,93.3 0 0 1 46.11,833.07 L50.35,834.69 A87.32,88.7 0 0 0 107.43,951.1 Z" fill="#8CF8D8" stroke="#2b2b2b" stroke-width="1"/>
<path d="M106.15,955.51L105.4,958.1M96.95,952.22L96.5,953.33M88.15,947.96L87.59,949.01M79.85,942.77L79.18,943.75M72.13,936.71L71.36,937.62M65.09,929.86L63.15,931.71M58.8,922.29L57.86,923.02M53.34,914.09L52.33,914.71M48.77,905.34L47.7,905.85M45.13,896.16L44.01,896.54M42.47,886.63L39.88,887.22M40.82,876.86L39.65,877M40.21,866.98L39.02,866.99M40.62,857.09L39.44,856.97M42.07,847.29L40.91,847.05M46.11,833.07L43.63,832.11" stroke="#3c3c3c" stroke-width="0.7" fill="none"/>
<path d="M50.93,822.24 A91.85,93.3 0 0 1 74.64,793.17 L77.47,796.76 A87.32,88.7 0 0 0 54.93,824.4 Z" fill="#E32626" stroke="#2b2b2b" stroke-width="1"/>
<path d="M50.93,822.24L48.58,820.97M55.95,813.75L54.97,813.08M61.83,805.85L60.93,805.08M68.51,798.63L67.69,797.77M74.64,793.17L72.98,791.06" stroke="#3c3c3c" stroke-width="0.7" fill="none"/>
<path d="M84.22,786.35 A91.85,93.3 0 0 1 93.69,781.23 L95.58,785.41 A87.32,88.7 0 0 0 86.58,790.28 Z" fill="#2D3CEB" stroke="#2b2b2b" stroke-width="1"/>
<path d="M84.22,786.35L82.84,784.04M92.8,781.65L92.3,780.56M93.69,781.23L92.58,778.78" stroke="#3c3c3c" stroke-width="0.7" fill="none"/>
<path d="M104.6,776.96 A91.85,93.3 0 0 1 120.38,773.46 L120.95,778.02 A87.32,88.7 0 0 0 105.95,781.35 Z" fill="#D4D4D4" stroke="#2b2b2b" stroke-width="1"/>
<path d="M104.6,776.96L103.81,774.39M114.05,774.51L113.81,773.33M120.38,773.46L120.04,770.78" stroke="#3c3c3c" stroke-width="0.7" fill="none"/>
<text x="102.4" y="771.5" class="sb">UL</text>
<text x="120.25" y="768.7" class="tl">1658</text>
<text x="190.55" y="781.3" class="tl">5000</text>
<text x="211.45" y="800.9" class="sb">CL</text>
<text x="228.4" y="817.2" class="tl">10000</text>
<text x="239.35" y="881" class="tl">15876</text>
<text x="209.85" y="943.2" class="tl">5000</text>
<text x="191.55" y="957.2" class="sb">WL</text>
<text x="157.05" y="968.7" class="tl">10000</text>
<text x="116.65" y="970.9" class="tl">13998</text>
<text x="51.95" y="941.6" class="tl">5000</text>
<text x="35.55" y="912.5" class="sb">GL</text>
<text x="25.95" y="890.7" class="tl">10000</text>
<text x="30.05" y="834.9" class="tl">15496</text>
<text x="41.9" y="805.4" class="sb">CS</text>
<text x="62.35" y="788.1" class="tl">3837</text>
<text x="62.35" y="773.4" class="sb">WA</text>
<text x="82.45" y="776.7" class="tl">1100</text>
<text x="126.4" y="995.9" class="cr">(g)</text>
<rect x="338.5" y="794.3" width="35.5" height="14.5" fill="#FFF9B0" stroke="#b0b0b0" stroke-width="0.8"/>
<text x="380" y="805.6" class="lg">Cropland (CL)</text>
<rect x="338.5" y="815.9" width="35.5" height="14.5" fill="#3A9A1E" stroke="#b0b0b0" stroke-width="0.8"/>
<text x="380" y="827.2" class="lg">Woodland (WL)</text>
<rect x="338.5" y="835.9" width="35.5" height="14.5" fill="#A0FAE0" stroke="#b0b0b0" stroke-width="0.8"/>
<text x="380" y="847.2" class="lg">Grassland (GL)</text>
<rect x="338.5" y="856.3" width="35.5" height="14.5" fill="#FF0000" stroke="#b0b0b0" stroke-width="0.8"/>
<text x="380" y="867.6" class="lg">Construction land (CS)</text>
<rect x="338.5" y="876.9" width="35.5" height="14.5" fill="#1060FF" stroke="#b0b0b0" stroke-width="0.8"/>
<text x="380" y="888.2" class="lg">Water Area (WA)</text>
<rect x="338.5" y="896.9" width="35.5" height="14.5" fill="#DCDCD8" stroke="#b0b0b0" stroke-width="0.8"/>
<text x="380" y="908.2" class="lg">Unused land (UL)</text>
</svg>
</body></html>
